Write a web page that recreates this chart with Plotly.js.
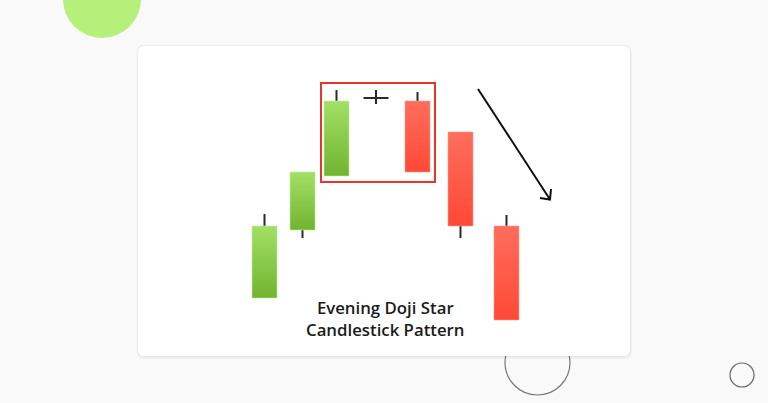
<!DOCTYPE html>
<html>
<head>
<meta charset="utf-8">
<script src="https://cdn.plot.ly/plotly-3.0.1.min.js"></script>
<style>
  html, body { margin: 0; padding: 0; background: #f9f9f9; }
  #chart { width: 768px; height: 403px; }
</style>
</head>
<body>
<div id="chart"></div>
<script>
// candle positions along the horizontal axis and their prices
const sessions = [264.5, 302.5, 336.5, 376, 417.5, 460.5, 506.5];
const opens  = [16, 50, 77, 116, 114.5, 99, 52];
const closes = [52, 79, 114.5, 116, 79, 52, 5];
const highs  = [58, 79, 120, 120, 119, 99, 57.5];
const lows   = [16, 46, 77, 113, 79, 46, 5];

const titleLines = ['Evening Doji Star', 'Candlestick Pattern'];

const bodyHalf = 12.5;
const greenScale = [[0, '#71b42f'], [1, '#a3e066']];
const redScale = [[0, '#ff4936'], [1, '#ff6d5d']];

const traces = [];

// wicks, drawn first so bodies sit on top
const wx = [], wy = [];
sessions.forEach(function (s, i) {
  wx.push(s, s, null);
  wy.push(lows[i], highs[i], null);
});
traces.push({
  x: wx, y: wy, type: 'scatter', mode: 'lines',
  line: { color: '#2a2a2a', width: 2 }, hoverinfo: 'skip'
});

// bodies
sessions.forEach(function (s, i) {
  const lo = Math.min(opens[i], closes[i]);
  const hi = Math.max(opens[i], closes[i]);
  if (hi === lo) {
    // doji: just a bar across
    traces.push({
      x: [s - bodyHalf, s + bodyHalf], y: [lo, lo],
      type: 'scatter', mode: 'lines',
      line: { color: '#2a2a2a', width: 2 }
    });
    return;
  }
  const up = closes[i] > opens[i];
  traces.push({
    x: [s - bodyHalf, s + bodyHalf, s + bodyHalf, s - bodyHalf, s - bodyHalf],
    y: [lo, lo, hi, hi, lo],
    type: 'scatter', mode: 'lines', fill: 'toself',
    line: { width: 0.6, color: up ? '#c2ec98' : '#ff9a8e' },
    fillgradient: { type: 'vertical', colorscale: up ? greenScale : redScale }
  });
});

// rounded card outline in pixel units (y2 axis)
function roundRect(x0, y0, x1, y1, r) {
  return 'M' + (x0 + r) + ',' + y0 + ' L' + (x1 - r) + ',' + y0 +
    ' Q' + x1 + ',' + y0 + ' ' + x1 + ',' + (y0 + r) +
    ' L' + x1 + ',' + (y1 - r) +
    ' Q' + x1 + ',' + y1 + ' ' + (x1 - r) + ',' + y1 +
    ' L' + (x0 + r) + ',' + y1 +
    ' Q' + x0 + ',' + y1 + ' ' + x0 + ',' + (y1 - r) +
    ' L' + x0 + ',' + (y0 + r) +
    ' Q' + x0 + ',' + y0 + ' ' + (x0 + r) + ',' + y0 + ' Z';
}

const layout = {
  width: 768, height: 403,
  margin: { l: 0, r: 0, t: 0, b: 0 },
  paper_bgcolor: '#f9f9f9',
  plot_bgcolor: 'rgba(0,0,0,0)',
  showlegend: false,
  hovermode: false,
  xaxis: { range: [0, 768], visible: false, fixedrange: true },
  yaxis: { range: [-36.5, 165], visible: false, fixedrange: true },
  yaxis2: { range: [403, 0], overlaying: 'y', visible: false, fixedrange: true },
  shapes: [
    { type: 'circle', layer: 'below', xref: 'x', yref: 'y2',
      x0: 63, x1: 141, y0: -40, y1: 38, fillcolor: '#b5f07b', line: { width: 0 } },
    { type: 'circle', layer: 'below', xref: 'x', yref: 'y2',
      x0: 505, x1: 570, y0: 330, y1: 395, fillcolor: 'rgba(0,0,0,0)',
      line: { color: '#777777', width: 1.2 } },
    { type: 'circle', layer: 'below', xref: 'x', yref: 'y2',
      x0: 730, x1: 754, y0: 363, y1: 387, fillcolor: 'rgba(0,0,0,0)',
      line: { color: '#666666', width: 1.2 } },
    { type: 'path', layer: 'below', xref: 'x', yref: 'y2',
      path: roundRect(136.5, 45, 632, 359, 8), fillcolor: 'rgba(0,0,0,0.035)', line: { width: 0 } },
    { type: 'path', layer: 'below', xref: 'x', yref: 'y2',
      path: roundRect(137.5, 45.5, 631, 357.5, 7), fillcolor: 'rgba(0,0,0,0.035)', line: { width: 0 } },
    { type: 'path', layer: 'below', xref: 'x', yref: 'y2',
      path: roundRect(138, 46, 630, 356, 6), fillcolor: '#ffffff', line: { width: 0 } },
    { type: 'rect', layer: 'above', xref: 'x', yref: 'y2',
      x0: 321, x1: 435, y0: 83, y1: 182, fillcolor: 'rgba(0,0,0,0)',
      line: { color: '#e8352a', width: 2 } },
    { type: 'path', layer: 'above', xref: 'x', yref: 'y2',
      path: 'M478,89 L550,199.5 M540,198 L550,199.5 L551,189',
      line: { color: '#111111', width: 2 } }
  ],
  annotations: [{
    xref: 'x', yref: 'y2', x: 385, y: 318,
    text: titleLines.join('<br>'), showarrow: false,
    align: 'center', xanchor: 'center', yanchor: 'middle',
    font: { family: 'Open Sans', size: 16.8, weight: 600, color: '#1a1a1a' }
  }]
};

Plotly.newPlot('chart', traces, layout, { staticPlot: true, displayModeBar: false });
</script>
</body>
</html>
